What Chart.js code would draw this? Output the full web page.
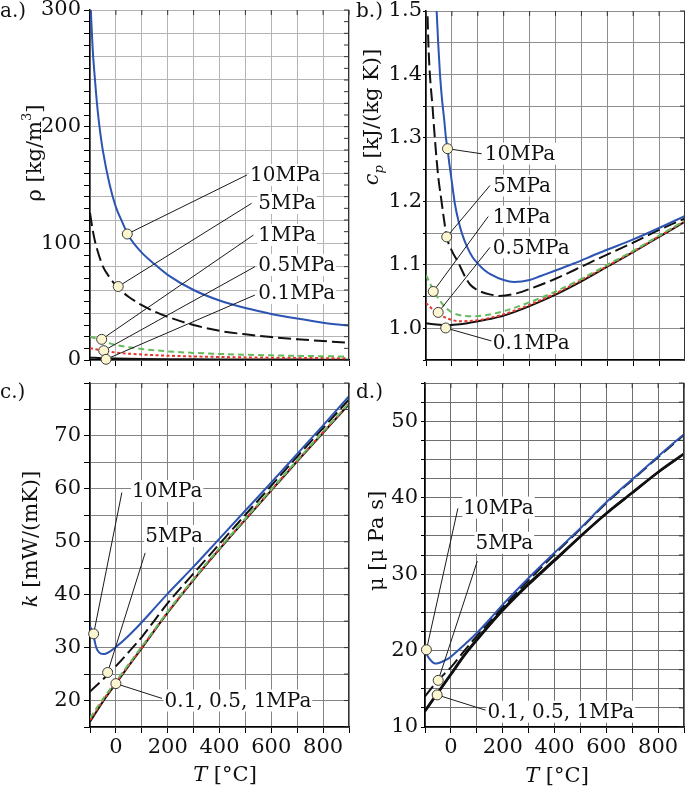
<!DOCTYPE html>
<html>
<head>
<meta charset="utf-8">
<script src="https://cdn.jsdelivr.net/npm/chart.js@4.4.0/dist/chart.umd.min.js"></script>
<style>
  html, body { margin: 0; padding: 0; background: #fff; width: 685px; height: 791px; overflow: hidden; position: relative; }
  canvas { position: absolute; left: -40px; top: -40px; }
</style>
</head>
<body>
<canvas id="chartA" width="765" height="871"></canvas>
<canvas id="chartB" width="765" height="871"></canvas>
<canvas id="chartC" width="765" height="871"></canvas>
<canvas id="chartD" width="765" height="871"></canvas>
<script>
// ==============================================================================
// 1. DATA (T in degC)
// ==============================================================================
// a.) density rho [kg/m3]
const tRho10 = [-100, -90, -80, -70, -60, -50, -25, 0, 25, 50, 100, 150, 200, 300, 400, 500, 600, 700, 800, 900];
const rho10  = [315, 268, 238, 213, 194, 179, 151, 131, 118, 106, 92, 82, 73, 60, 51, 44.5, 39.5, 35.5, 32, 29.5];
const tRho5  = [-100, -90, -80, -70, -60, -50, -25, 0, 25, 50, 100, 150, 200, 300, 400, 500, 600, 700, 800, 900];
const rho5   = [126, 112, 101, 93, 86, 80, 71, 64, 58.5, 54, 47, 41.5, 37, 30, 25, 22, 19.7, 17.8, 16.2, 14.8];
const tRhoLo = [-100, -50, 0, 50, 100, 200, 300, 400, 500, 600, 700, 800, 900];
const rho1   = [20.3, 16, 12.9, 10.9, 9.4, 7.4, 6.1, 5.2, 4.5, 4.0, 3.6, 3.25, 3.0];
const rho05  = [10.1, 8.0, 6.4, 5.4, 4.7, 3.7, 3.05, 2.6, 2.25, 2.0, 1.8, 1.62, 1.5];
const rho01  = [2.0, 1.6, 1.28, 1.08, 0.94, 0.74, 0.61, 0.52, 0.45, 0.40, 0.36, 0.32, 0.30];

// b.) specific heat cp [kJ/(kg K)]
const tCp10 = [-60, -53, -46, -38, -30, -23, -17, -10, 0, 12, 25, 40, 57, 80, 100, 125, 150, 200, 240, 300, 340, 400, 470, 570, 700, 800, 900];
const cp10  = [1.51, 1.45, 1.40, 1.36, 1.33, 1.30, 1.283, 1.26, 1.23, 1.195, 1.17, 1.148, 1.13, 1.112, 1.102, 1.092, 1.085, 1.076, 1.073, 1.076, 1.082, 1.091, 1.102, 1.119, 1.140, 1.158, 1.177];
const tCp5  = [-96, -90, -85, -75, -66, -53, -40, -30, -20, 0, 24, 50, 70, 100, 150, 185, 250, 314, 400, 500, 572, 700, 800, 900];
const cp5   = [1.52, 1.44, 1.40, 1.35, 1.30, 1.24, 1.20, 1.17, 1.144, 1.122, 1.104, 1.082, 1.069, 1.06, 1.053, 1.051, 1.055, 1.064, 1.078, 1.097, 1.111, 1.135, 1.155, 1.173];
const tCpLo = [-100, -80, -60, -40, -20, 0, 40, 80, 120, 200, 300, 400, 500, 600, 700, 800, 900];
const cp1   = [1.084, 1.067, 1.052, 1.040, 1.031, 1.025, 1.020, 1.019, 1.020, 1.027, 1.041, 1.058, 1.078, 1.100, 1.122, 1.146, 1.170];
const cp05  = [1.040, 1.032, 1.026, 1.020, 1.016, 1.013, 1.011, 1.012, 1.014, 1.022, 1.037, 1.055, 1.076, 1.098, 1.121, 1.145, 1.169];
const tCp01 = [-100, -60, -20, 20, 60, 100, 150, 200, 300, 400, 500, 600, 700, 800, 900];
const cp01  = [1.008, 1.006, 1.005, 1.006, 1.008, 1.011, 1.015, 1.020, 1.035, 1.053, 1.074, 1.097, 1.120, 1.144, 1.168];

// c.) thermal conductivity k [mW/(mK)]
const tK10 = [-100, -90, -85, -80, -75, -65, -50, -40, -25, 0, 50, 100, 150, 200, 300, 400, 500, 600, 700, 800, 900];
const k10  = [34.0, 32.9, 32.0, 30.8, 29.9, 29.1, 28.8, 28.85, 29.2, 30.1, 32.3, 34.8, 37.5, 40.2, 45.3, 50.6, 55.9, 61.2, 66.6, 72.0, 77.5];
const tK   = [-100, -50, 0, 50, 100, 150, 200, 300, 400, 500, 600, 700, 800, 900];
const k5   = [21.7, 24.0, 26.5, 29.2, 32.0, 35.2, 38.4, 44.0, 49.6, 55.1, 60.6, 66.1, 71.5, 76.9];
const k1   = [16.7, 20.3, 23.6, 26.9, 30.2, 33.5, 36.8, 43.0, 48.8, 54.4, 59.9, 65.4, 70.8, 76.2];
const k05  = [16.3, 20.0, 23.4, 26.7, 30.0, 33.4, 36.7, 42.9, 48.7, 54.3, 59.8, 65.3, 70.7, 76.1];
const k01  = [16.0, 19.8, 23.2, 26.6, 29.9, 33.3, 36.6, 42.8, 48.6, 54.2, 59.7, 65.2, 70.6, 76.0];

// d.) dynamic viscosity mu [uPa s]
const tMu10 = [-100, -90, -80, -70, -60, -50, -30, -10, 0, 50, 100, 150, 200, 300, 400, 500, 600, 700, 800, 900];
const mu10  = [20.0, 19.3, 18.8, 18.45, 18.3, 18.35, 18.6, 18.95, 19.2, 20.7, 22.3, 24.1, 26.0, 29.5, 32.8, 36.0, 39.4, 42.4, 45.4, 48.3];
const tMu   = [-100, -50, 0, 50, 100, 150, 200, 300, 400, 500, 600, 700, 800, 900];
const mu5   = [14.0, 16.1, 17.8, 19.9, 21.9, 23.8, 25.7, 29.2, 32.6, 35.9, 39.3, 42.3, 45.3, 48.2];
const mu1   = [12.2, 14.6, 17.0, 19.4, 21.5, 23.5, 25.4, 28.8, 31.9, 35.0, 38.0, 40.7, 43.4, 45.8];
const mu05  = [12.1, 14.5, 16.9, 19.3, 21.4, 23.4, 25.3, 28.7, 31.8, 34.9, 37.9, 40.6, 43.3, 45.7];
const mu01  = [12.0, 14.4, 16.8, 19.2, 21.3, 23.3, 25.2, 28.6, 31.7, 34.9, 37.9, 40.6, 43.3, 45.7];

// Call-outs: marker on the curve, end of the leader, start of the text (data units)
const calloutsA = [
    { text: '10MPa',  at: [44, 108],   end: [506, 158.6], label: [518, 158.6] },
    { text: '5MPa',   at: [9, 63],     end: [524, 134.3], label: [550, 134.6] },
    { text: '1MPa',   at: [-55, 17.7], end: [531, 107.1], label: [550, 107.1] },
    { text: '0.5MPa', at: [-47, 8],    end: [537, 80.0],  label: [550, 81.4] },
    { text: '0.1MPa', at: [-38, 0.6],  end: [537, 55.7],  label: [550, 57.4] }
];
const calloutsB = [
    { text: '10MPa',  at: [-17, 1.283],  end: [115, 1.275],  label: [127, 1.2753] },
    { text: '5MPa',   at: [-20, 1.144],  end: [147, 1.225],  label: [160, 1.225] },
    { text: '1MPa',   at: [-72, 1.058],  end: [140, 1.176],  label: [158, 1.176] },
    { text: '0.5MPa', at: [-53, 1.025],  end: [147, 1.1275], label: [158, 1.1275] },
    { text: '0.1MPa', at: [-24, 1.0005], end: [153, 0.980],  label: [158, 0.977] }
];
const calloutsC = [
    { text: '10MPa',          at: [-86, 32.6], end: [23, 59.3],  label: [62, 59.6] },
    { text: '5MPa',           at: [-32, 25.3], end: [113, 47.9], label: [113, 51.1] },
    { text: '0.1, 0.5, 1MPa', at: [0, 23.2],   end: [178, 20.4], label: [188, 20.0] }
];
const calloutsD = [
    { text: '10MPa',          at: [-94.5, 20.1], end: [27, 38.6],  label: [48, 38.7] },
    { text: '5MPa',           at: [-49, 16.1],   end: [102, 31.7], label: [95, 34.1] },
    { text: '0.1, 0.5, 1MPa', at: [-53, 14.2],   end: [134, 12.2], label: [141, 12.0] }
];

// ==============================================================================
// 2. STYLE & LAYOUT
// ==============================================================================
const OFF = 40, CW = 765, CH = 871;          // canvases are shifted by OFF
const SERIF = "'DejaVu Serif', 'Liberation Serif', serif";
const INK = '#111';
const STYLE = {
    p10: { color: '#2c54b2', width: 2,   dash: [] },
    p5:  { color: '#111111', width: 2,   dash: [13, 5] },
    p1:  { color: '#66bb5c', width: 2,   dash: [6, 4] },
    p05: { color: '#e8352b', width: 2,   dash: [3, 2.5] },
    p01: { color: '#111111', width: 2,   dash: [] }
};

const zip = (xs, ys) => xs.map((x, i) => ({ x: x, y: ys[i] }));

function curve(xs, ys, st) {
    return {
        data: zip(xs, ys), showLine: true, borderColor: st.color, borderWidth: st.width,
        borderDash: st.dash, pointRadius: 0, fill: false, cubicInterpolationMode: 'monotone',
        clip: 0, order: 10
    };
}

function calloutSets(list) {
    const leaders = list.map(c => ({
        data: [{ x: c.at[0], y: c.at[1] }, { x: c.end[0], y: c.end[1] }],
        showLine: true, borderColor: '#1a1a1a', borderWidth: 1, pointRadius: 0, clip: false, order: 5
    }));
    const marks = {
        data: list.map(c => ({ x: c.at[0], y: c.at[1] })), showLine: false,
        pointRadius: 5, pointBackgroundColor: '#fbf6cf', pointBorderColor: '#3a3a3a',
        pointBorderWidth: 1, clip: false, order: 0
    };
    return [marks].concat(leaders);
}

function runFont(r, size) {
    const s = (r.sup || r.sub) ? Math.round(size * 0.62) : size;
    return (r.it ? 'italic ' : '') + s + 'px ' + SERIF;
}

function drawRuns(ctx, runs, cx, cy, rot, size) {
    ctx.save();
    ctx.translate(cx, cy);
    if (rot) ctx.rotate(rot);
    let w = 0;
    runs.forEach(r => { ctx.font = runFont(r, size); w += ctx.measureText(r.t).width; });
    let x = -w / 2;
    ctx.textBaseline = 'middle';
    ctx.textAlign = 'left';
    ctx.fillStyle = INK;
    runs.forEach(r => {
        ctx.font = runFont(r, size);
        const dy = r.sup ? -size * 0.38 : (r.sub ? size * 0.32 : 0);
        ctx.fillText(r.t, x, dy);
        x += ctx.measureText(r.t).width;
    });
    ctx.restore();
}

// frame ticks, call-out texts, axis titles, panel letter
function decorPlugin(p) {
    return {
        id: 'decor',
        afterDraw(chart) {
            const { ctx, chartArea: a, scales: { x, y } } = chart;
            ctx.save();
            ctx.strokeStyle = '#333';
            ctx.lineWidth = 1;
            ctx.beginPath();
            ctx.moveTo(a.right - 0.5, a.top);
            ctx.lineTo(a.right - 0.5, a.bottom);
            x.ticks.forEach(t => {
                const px = x.getPixelForValue(t.value);
                ctx.moveTo(px, a.top); ctx.lineTo(px, a.top + 5);
            });
            y.ticks.forEach(t => {
                const py = y.getPixelForValue(t.value);
                ctx.moveTo(a.right, py); ctx.lineTo(a.right - 5, py);
            });
            ctx.stroke();

            // call-out labels on white boxes
            ctx.font = '20px ' + SERIF;
            ctx.textBaseline = 'middle';
            ctx.textAlign = 'left';
            p.callouts.forEach(c => {
                const lx = x.getPixelForValue(c.label[0]);
                const ly = y.getPixelForValue(c.label[1]);
                const w = ctx.measureText(c.text).width;
                ctx.fillStyle = '#fff';
                ctx.fillRect(lx - 1, ly - 11, w + 2, 22);
                ctx.fillStyle = INK;
                ctx.fillText(c.text, lx, ly + 1);
            });

            // axis titles (page coordinates)
            drawRuns(ctx, p.yTitle, p.yTitleAt[0] + OFF, p.yTitleAt[1] + OFF, -Math.PI / 2, 21);
            if (p.xTitle) drawRuns(ctx, p.xTitle, p.xTitleAt[0] + OFF, p.xTitleAt[1] + OFF, 0, 21);

            ctx.font = '20px ' + SERIF;
            ctx.fillStyle = INK;
            ctx.textBaseline = 'alphabetic';
            ctx.fillText(p.letter, p.letterAt[0] + OFF, p.letterAt[1] + OFF);
            ctx.restore();
        }
    };
}

// ==============================================================================
// 3. PANEL BUILDER
// ==============================================================================
function buildPanel(p) {
    const yW = 60;
    const xH = p.xLabels ? 40 : 12;
    const box = p.box;
    const tickFont = { family: SERIF, size: 21, lineHeight: 1 };

    return new Chart(document.getElementById(p.id), {
        type: 'scatter',
        data: { datasets: calloutSets(p.callouts).concat(p.curves) },
        options: {
            responsive: false,
            animation: false,
            events: [],
            layout: {
                padding: {
                    left: box.l + OFF - yW,
                    right: CW - (box.r + OFF),
                    top: box.t + OFF,
                    bottom: CH - (box.b + OFF) - xH
                }
            },
            plugins: { legend: { display: false }, tooltip: { enabled: false } },
            scales: {
                x: {
                    type: 'linear', min: -100, max: 900,
                    afterFit: s => { s.height = xH; },
                    ticks: {
                        stepSize: 100, autoSkip: false, maxRotation: 0, minRotation: 0,
                        padding: 4, font: tickFont, color: INK,
                        callback: v => (p.xLabels && v >= 0 && v % 200 === 0) ? String(v) : ''
                    },
                    grid: { color: p.grid, tickColor: '#000', tickLength: 6, lineWidth: 1 },
                    border: { color: '#000', width: 1.5 }
                },
                y: {
                    type: 'linear', min: p.y.min, max: p.y.max,
                    afterFit: s => { s.width = yW; },
                    ticks: {
                        stepSize: p.y.step, autoSkip: false, padding: p.y.pad,
                        font: tickFont, color: INK, callback: p.y.label
                    },
                    grid: {
                        color: ctx => p.y.grid(ctx.tick.value) ? p.grid : 'rgba(0,0,0,0)',
                        tickColor: '#000', tickLength: p.y.tickLen, lineWidth: 1
                    },
                    border: { color: '#000', width: 1.5 }
                }
            }
        },
        plugins: [decorPlugin(p)]
    });
}

const near = (v, m) => Math.abs(v / m - Math.round(v / m)) < 1e-6;

// ==============================================================================
// 4. INITIALIZATION
// ==============================================================================
buildPanel({
    id: 'chartA', box: { l: 90, t: 10, r: 349, b: 360 }, xLabels: false, grid: '#b4b4b4',
    y: { min: 0, max: 300, step: 10, pad: 3, tickLen: 6,
         label: v => near(v, 100) ? String(Math.round(v)) : '', grid: v => near(v, 20) },
    curves: [
        curve(tRho10, rho10, STYLE.p10),
        curve(tRho5, rho5, STYLE.p5),
        curve(tRhoLo, rho1, STYLE.p1),
        curve(tRhoLo, rho05, STYLE.p05),
        curve(tRhoLo, rho01, STYLE.p01)
    ],
    callouts: calloutsA,
    yTitle: [{ t: 'ρ [kg/m' }, { t: '3', sup: true }, { t: ']' }], yTitleAt: [36, 153],
    letter: 'a.)', letterAt: [0, 17]
});

buildPanel({
    id: 'chartB', box: { l: 426, t: 11, r: 685, b: 360 }, xLabels: false, grid: '#8e8e8e',
    y: { min: 0.95, max: 1.5, step: 0.05, pad: 1, tickLen: 3,
         label: v => near(v, 0.1) ? v.toFixed(1) : '', grid: v => true },
    curves: [
        curve(tCp10, cp10, STYLE.p10),
        curve(tCp5, cp5, STYLE.p5),
        curve(tCpLo, cp1, STYLE.p1),
        curve(tCpLo, cp05, STYLE.p05),
        curve(tCp01, cp01, STYLE.p01)
    ],
    callouts: calloutsB,
    yTitle: [{ t: 'c', it: true }, { t: 'p', it: true, sub: true }, { t: ' [kJ/(kg K)]' }], yTitleAt: [373, 117],
    letter: 'b.)', letterAt: [356, 17]
});

buildPanel({
    id: 'chartC', box: { l: 90, t: 383, r: 349, b: 727 }, xLabels: true, grid: '#848484',
    y: { min: 15, max: 80, step: 5, pad: 3, tickLen: 6,
         label: v => (near(v, 10) && v >= 20 && v <= 70) ? String(Math.round(v)) : '', grid: v => true },
    curves: [
        curve(tK10, k10, STYLE.p10),
        curve(tK, k5, STYLE.p5),
        curve(tK, k1, STYLE.p1),
        curve(tK, k05, STYLE.p05),
        curve(tK, k01, STYLE.p01)
    ],
    callouts: calloutsC,
    yTitle: [{ t: 'k', it: true }, { t: ' [mW/(mK)]' }], yTitleAt: [32, 539],
    xTitle: [{ t: 'T', it: true }, { t: ' [°C]' }], xTitleAt: [225, 776],
    letter: 'c.)', letterAt: [0, 398]
});

buildPanel({
    id: 'chartD', box: { l: 425, t: 383, r: 684, b: 727 }, xLabels: true, grid: '#707070',
    y: { min: 10, max: 55, step: 2.5, pad: 3, tickLen: 4,
         label: v => (near(v, 10) && v <= 50) ? String(Math.round(v)) : '', grid: v => true },
    curves: [
        curve(tMu10, mu10, STYLE.p10),
        curve(tMu, mu5, STYLE.p5),
        curve(tMu, mu1, STYLE.p01),
        curve(tMu, mu05, STYLE.p01),
        curve(tMu, mu01, STYLE.p01)
    ],
    callouts: calloutsD,
    yTitle: [{ t: 'μ [μ Pa s]' }], yTitleAt: [378, 541],
    xTitle: [{ t: 'T', it: true }, { t: ' [°C]' }], xTitleAt: [557, 777],
    letter: 'd.)', letterAt: [356, 398]
});
</script>
</body>
</html>
